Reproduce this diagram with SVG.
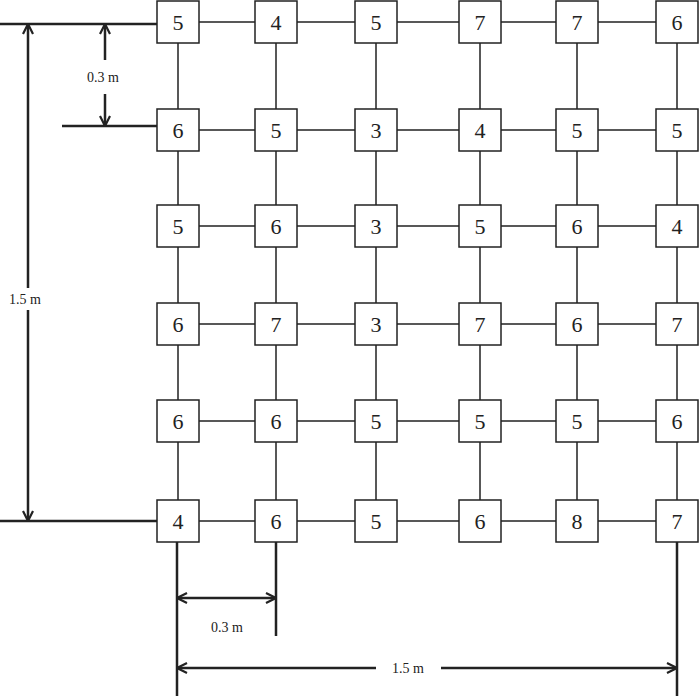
<svg xmlns="http://www.w3.org/2000/svg" width="700" height="696" viewBox="0 0 700 696">
<style>
.g{stroke:#222;stroke-width:1.5;fill:none}
.d{stroke:#222;stroke-width:2.5;fill:none}
.b{fill:#fff;stroke:#222;stroke-width:1.5}
.n{font-family:"Liberation Serif",serif;font-size:22px;fill:#222;text-anchor:middle}
.l{font-family:"Liberation Serif",serif;font-size:14px;fill:#222;text-anchor:middle}
</style>
<defs>
<marker id="a" viewBox="0 0 12 12" refX="11" refY="6" markerWidth="12" markerHeight="12" markerUnits="userSpaceOnUse" orient="auto-start-reverse">
<path d="M1 1L11 6L1 11" fill="none" stroke="#222" stroke-width="2.2"/>
</marker>
</defs>
<rect width="700" height="696" fill="#fff"/>
<g id="connectors">
<path class="g" d="M178 22H677M158 130H677M178 226H677M178 324H677M178 421H677M158 521H677"/>
<path class="g" d="M178 22V521M276 22V521M376 22V521M480 22V521M577 22V521M677 22V521"/>
<path class="d" d="M0 24H158M62 126H158"/>
<path class="d" d="M28 24V521" marker-start="url(#a)" marker-end="url(#a)"/>
<path class="d" d="M0 521H158"/>
<path class="d" d="M105 24V60" marker-start="url(#a)"/>
<path class="d" d="M105 94V126" marker-end="url(#a)"/>
<path class="d" d="M177 542V696M276 542V636M677 542V696"/>
<path class="d" d="M177 598H276" marker-start="url(#a)" marker-end="url(#a)"/>
<path class="d" d="M177 668H376" marker-start="url(#a)"/>
<path class="d" d="M441 668H677" marker-end="url(#a)"/>
</g>
<g id="labels">
<text class="l" x="103" y="82">0.3 m</text>
<rect x="3" y="288" width="44" height="22" fill="#fff"/>
<text class="l" x="25" y="304">1.5 m</text>
<text class="l" x="227" y="632">0.3 m</text>
<text class="l" x="408" y="673">1.5 m</text>
</g>
<g id="nodes">
<g id="r1"><rect class="b" x="157" y="1" width="42" height="42"/><text class="n" x="178" y="30">5</text><rect class="b" x="255" y="1" width="42" height="42"/><text class="n" x="276" y="30">4</text><rect class="b" x="355" y="1" width="42" height="42"/><text class="n" x="376" y="30">5</text><rect class="b" x="459" y="1" width="42" height="42"/><text class="n" x="480" y="30">7</text><rect class="b" x="556" y="1" width="42" height="42"/><text class="n" x="577" y="30">7</text><rect class="b" x="656" y="1" width="42" height="42"/><text class="n" x="677" y="30">6</text></g>
<g id="r2"><rect class="b" x="157" y="109" width="42" height="42"/><text class="n" x="178" y="138">6</text><rect class="b" x="255" y="109" width="42" height="42"/><text class="n" x="276" y="138">5</text><rect class="b" x="355" y="109" width="42" height="42"/><text class="n" x="376" y="138">3</text><rect class="b" x="459" y="109" width="42" height="42"/><text class="n" x="480" y="138">4</text><rect class="b" x="556" y="109" width="42" height="42"/><text class="n" x="577" y="138">5</text><rect class="b" x="656" y="109" width="42" height="42"/><text class="n" x="677" y="138">5</text></g>
<g id="r3"><rect class="b" x="157" y="205" width="42" height="42"/><text class="n" x="178" y="234">5</text><rect class="b" x="255" y="205" width="42" height="42"/><text class="n" x="276" y="234">6</text><rect class="b" x="355" y="205" width="42" height="42"/><text class="n" x="376" y="234">3</text><rect class="b" x="459" y="205" width="42" height="42"/><text class="n" x="480" y="234">5</text><rect class="b" x="556" y="205" width="42" height="42"/><text class="n" x="577" y="234">6</text><rect class="b" x="656" y="205" width="42" height="42"/><text class="n" x="677" y="234">4</text></g>
<g id="r4"><rect class="b" x="157" y="303" width="42" height="42"/><text class="n" x="178" y="332">6</text><rect class="b" x="255" y="303" width="42" height="42"/><text class="n" x="276" y="332">7</text><rect class="b" x="355" y="303" width="42" height="42"/><text class="n" x="376" y="332">3</text><rect class="b" x="459" y="303" width="42" height="42"/><text class="n" x="480" y="332">7</text><rect class="b" x="556" y="303" width="42" height="42"/><text class="n" x="577" y="332">6</text><rect class="b" x="656" y="303" width="42" height="42"/><text class="n" x="677" y="332">7</text></g>
<g id="r5"><rect class="b" x="157" y="400" width="42" height="42"/><text class="n" x="178" y="429">6</text><rect class="b" x="255" y="400" width="42" height="42"/><text class="n" x="276" y="429">6</text><rect class="b" x="355" y="400" width="42" height="42"/><text class="n" x="376" y="429">5</text><rect class="b" x="459" y="400" width="42" height="42"/><text class="n" x="480" y="429">5</text><rect class="b" x="556" y="400" width="42" height="42"/><text class="n" x="577" y="429">5</text><rect class="b" x="656" y="400" width="42" height="42"/><text class="n" x="677" y="429">6</text></g>
<g id="r6"><rect class="b" x="157" y="500" width="42" height="42"/><text class="n" x="178" y="529">4</text><rect class="b" x="255" y="500" width="42" height="42"/><text class="n" x="276" y="529">6</text><rect class="b" x="355" y="500" width="42" height="42"/><text class="n" x="376" y="529">5</text><rect class="b" x="459" y="500" width="42" height="42"/><text class="n" x="480" y="529">6</text><rect class="b" x="556" y="500" width="42" height="42"/><text class="n" x="577" y="529">8</text><rect class="b" x="656" y="500" width="42" height="42"/><text class="n" x="677" y="529">7</text></g>
</g>
</svg>
